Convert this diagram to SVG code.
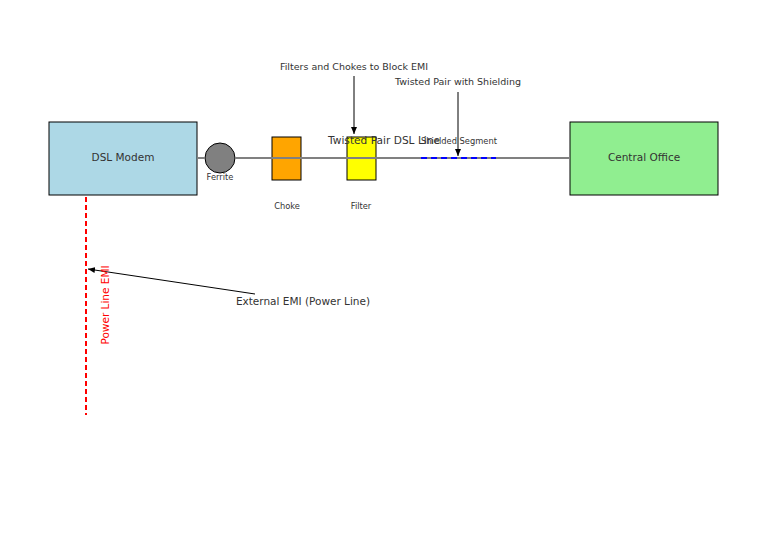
<svg xmlns="http://www.w3.org/2000/svg" width="768" height="538" viewBox="0 0 768 538">
<style>
text{font-family:"DejaVu Sans","Liberation Sans",sans-serif;fill:#333}
.box{stroke:#000;stroke-width:1}
.sm{font-size:8.3px}
.md{font-size:9.5px}
.lg{font-size:10.5px}
.arr{stroke:#000;stroke-width:1;fill:none;marker-end:url(#ah)}
</style>
<defs>
<marker id="ah" markerWidth="8" markerHeight="8" refX="7" refY="4" orient="auto" markerUnits="userSpaceOnUse">
<path d="M0,1 L7,4 L0,7 Z" fill="#000"/>
</marker>
</defs>
<rect width="768" height="538" fill="#fff"/>
<g id="modem">
<rect class="box" x="49" y="122" width="148" height="73" fill="#ADD8E6"/>
<text class="lg" x="123" y="161" text-anchor="middle">DSL Modem</text>
</g>
<g id="office">
<rect class="box" x="570" y="122" width="148" height="73" fill="#90EE90"/>
<text class="lg" x="644" y="161" text-anchor="middle">Central Office</text>
</g>
<g id="ferrite">
<circle class="box" cx="220" cy="158" r="15" fill="#808080"/>
<text class="sm" x="220" y="180" text-anchor="middle">Ferrite</text>
</g>
<g id="choke">
<rect class="box" x="272" y="137" width="29" height="43" fill="#FFA500"/>
<text class="sm" x="287" y="209" text-anchor="middle">Choke</text>
</g>
<g id="filter">
<rect class="box" x="347" y="137" width="29" height="43" fill="#FFFF00"/>
<text class="sm" x="361" y="209" text-anchor="middle">Filter</text>
</g>
<g id="connectors">
<line x1="197" y1="158" x2="205" y2="158" stroke="#808080" stroke-width="2"/>
<line x1="235" y1="158" x2="570" y2="158" stroke="#808080" stroke-width="2"/>
<line x1="421" y1="158" x2="496" y2="158" stroke="#0000FF" stroke-width="2" stroke-dasharray="6,4"/>
<line x1="86" y1="197" x2="86" y2="415" stroke="#FF0000" stroke-width="2" stroke-dasharray="5,3"/>
<line class="arr" x1="354" y1="76" x2="354" y2="134"/>
<line class="arr" x1="458" y1="92" x2="458" y2="156"/>
<line class="arr" x1="255" y1="294" x2="88" y2="269"/>
</g>
<g id="labels">
<text x="384" y="144" text-anchor="middle" style="font-size:10.6px">Twisted Pair DSL Line</text>
<text class="sm" x="459" y="144" text-anchor="middle">Shielded Segment</text>
<text class="md" x="354" y="70" text-anchor="middle">Filters and Chokes to Block EMI</text>
<text class="md" x="458" y="85" text-anchor="middle">Twisted Pair with Shielding</text>
<text class="lg" x="303" y="305" text-anchor="middle">External EMI (Power Line)</text>
<text x="109" y="305" text-anchor="middle" transform="rotate(-90 109 305)" style="font-size:10.5px;fill:#FF0000">Power Line EMI</text>
</g>
</svg>
